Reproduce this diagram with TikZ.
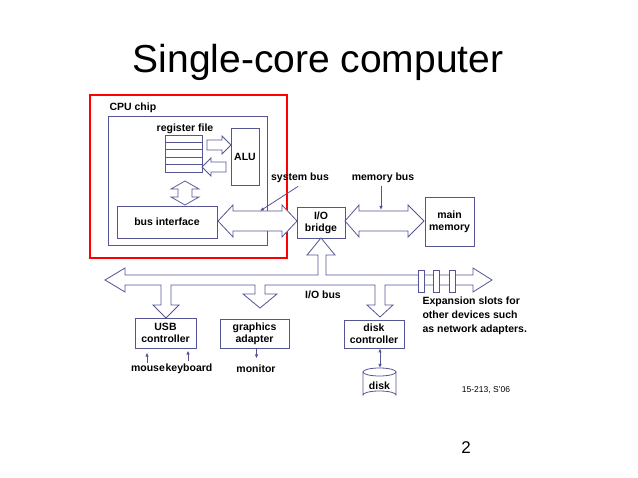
\documentclass[tikz,border=0pt]{standalone}
\usepackage{fontspec}
\setmainfont{Liberation Sans}
\usetikzlibrary{arrows.meta}
\definecolor{ln}{RGB}{85,85,150}
\begin{document}
\begin{tikzpicture}[x=1pt,y=-1pt,
  box/.style={draw=ln,line width=0.8pt,inner sep=0},
  lbl/.style={font=\bfseries\fontsize{10.5}{12}\selectfont,align=center},
  hol/.style={draw=ln,line width=0.8pt,fill=white,line join=miter},
  ptr/.style={draw=ln,line width=0.8pt,-{Latex[length=4pt,width=3.5pt]}}]
\useasboundingbox (0,0) rectangle (638,478);
\node[font=\fontsize{39}{44}\selectfont] (title) at (318,62) {Single-core computer};
% CPU chip
\draw[red,line width=1.6pt] (90,95) rectangle (287,258);
\node[lbl,anchor=west] (cpu) at (106,108) {CPU chip};
\draw[box] (108,116) rectangle (267,245);
\node[lbl] (rf) at (185,129) {register file};
\foreach \i in {0,...,4}{\draw[box] (165,{135+7.4*\i}) rectangle (202,{135+7.4*(\i+1)});}
\node[box,minimum width=28pt,minimum height=57pt,lbl] (alu) at (245,156.5) {ALU};
\draw[hol] (207,140) -- (222,140) -- (222,136) -- (231,145) -- (222,154) -- (222,150) -- (207,150) -- cycle;
\draw[hol] (226,162) -- (211,162) -- (211,158) -- (202,167) -- (211,176) -- (211,172) -- (226,172) -- cycle;
\draw[hol] (185,181) -- (199,189) -- (192,189) -- (192,197) -- (199,197) -- (185,205) -- (171,197) -- (178,197) -- (178,189) -- (171,189) -- cycle;
\node[box,minimum width=100pt,minimum height=32pt,lbl] (bi) at (167,222) {bus interface};
% system bus
\draw[hol] (218,221) -- (233,205) -- (233,211) -- (282,211) -- (282,205) -- (297,221) -- (282,237) -- (282,231) -- (233,231) -- (233,237) -- cycle;
\node[box,minimum width=48pt,minimum height=31pt,lbl] (br) at (321,222.5) {I/O\\bridge};
\draw[hol] (345,221) -- (359,205) -- (359,211) -- (408,211) -- (408,205) -- (424,221) -- (408,237) -- (408,231) -- (359,231) -- (359,237) -- cycle;
\node[box,minimum width=49pt,minimum height=49pt,lbl] (mm) at (449.5,221.5) {main\\memory};
\node[lbl] (sb) at (300,178) {system bus};
\node[lbl] (mb) at (383,178) {memory bus};
\coordinate (sbp) at (260,211);
\coordinate (mbp) at (381,210);
\draw[ptr] (sb.south) ++(-2,0) -- (sbp);
\draw[ptr] (mb.south) ++(-2,0) -- (mbp);
% I/O bus
\draw[hol] (105,280) -- (125,268) -- (125,275) -- (318,275) -- (318,255) -- (307,255) -- (321,238) -- (335,255) -- (326,255) -- (326,275) -- (473,275) -- (473,268) -- (492,280) -- (473,292) -- (473,285) -- (385,285) -- (385,305) -- (393,305) -- (380,317) -- (367,305) -- (375,305) -- (375,285) -- (265,285) -- (265,294) -- (277,294) -- (260,308) -- (243,294) -- (255,294) -- (255,285) -- (171,285) -- (171,305) -- (179,305) -- (166,318) -- (153,305) -- (161,305) -- (161,285) -- (125,285) -- (125,292) -- cycle;
\foreach \x in {418,433,449}{\draw[hol] (\x,270) rectangle ++(6,22);}
\node[lbl] (iob) at (323,295) {I/O bus};
\node[lbl,anchor=north west,align=left,font=\bfseries\fontsize{10.5}{14}\selectfont] (exp) at (419,293) {Expansion slots for\\other devices such\\as network adapters.};
% devices
\node[box,minimum width=61pt,minimum height=30pt,lbl] (usb) at (165.5,333) {USB\\controller};
\node[box,minimum width=69pt,minimum height=29pt,lbl] (ga) at (254.5,333.5) {graphics\\adapter};
\node[box,minimum width=60pt,minimum height=28pt,lbl] (dc) at (374,334) {disk\\controller};
\node[lbl] (mouse) at (148,369) {mouse};
\node[lbl] (kb) at (189,369) {keyboard};
\node[lbl] (mon) at (256,369) {monitor};
\draw[ptr] (mouse.north) ++(-1,0) -- ++(0,-10);
\draw[ptr] (kb.north) ++(-1,0) -- ++(0,-10);
\draw[ptr] (ga.south) ++(2,0) -- ++(0,10);
% disk
\draw[hol] (363,372) -- (363,395) arc[start angle=180,end angle=360,x radius=16.5,y radius=4] -- (396,372);
\draw[hol] (379.5,372) ellipse[x radius=16.5,y radius=4];
\node[lbl] (disk) at (379.5,386) {disk};
\coordinate (dtop) at (380,368);
\draw[draw=ln,line width=0.8pt,{Latex[length=4pt,width=3.5pt]}-{Latex[length=4pt,width=3.5pt]}] (dc.south) ++(6,0) -- (dtop);
\node[font=\fontsize{8.5}{10}\selectfont] (cn) at (486,390) {15-213, S'06};
\node[font=\fontsize{17}{19}\selectfont] (pg) at (466,448) {2};
\end{tikzpicture}
\end{document}
